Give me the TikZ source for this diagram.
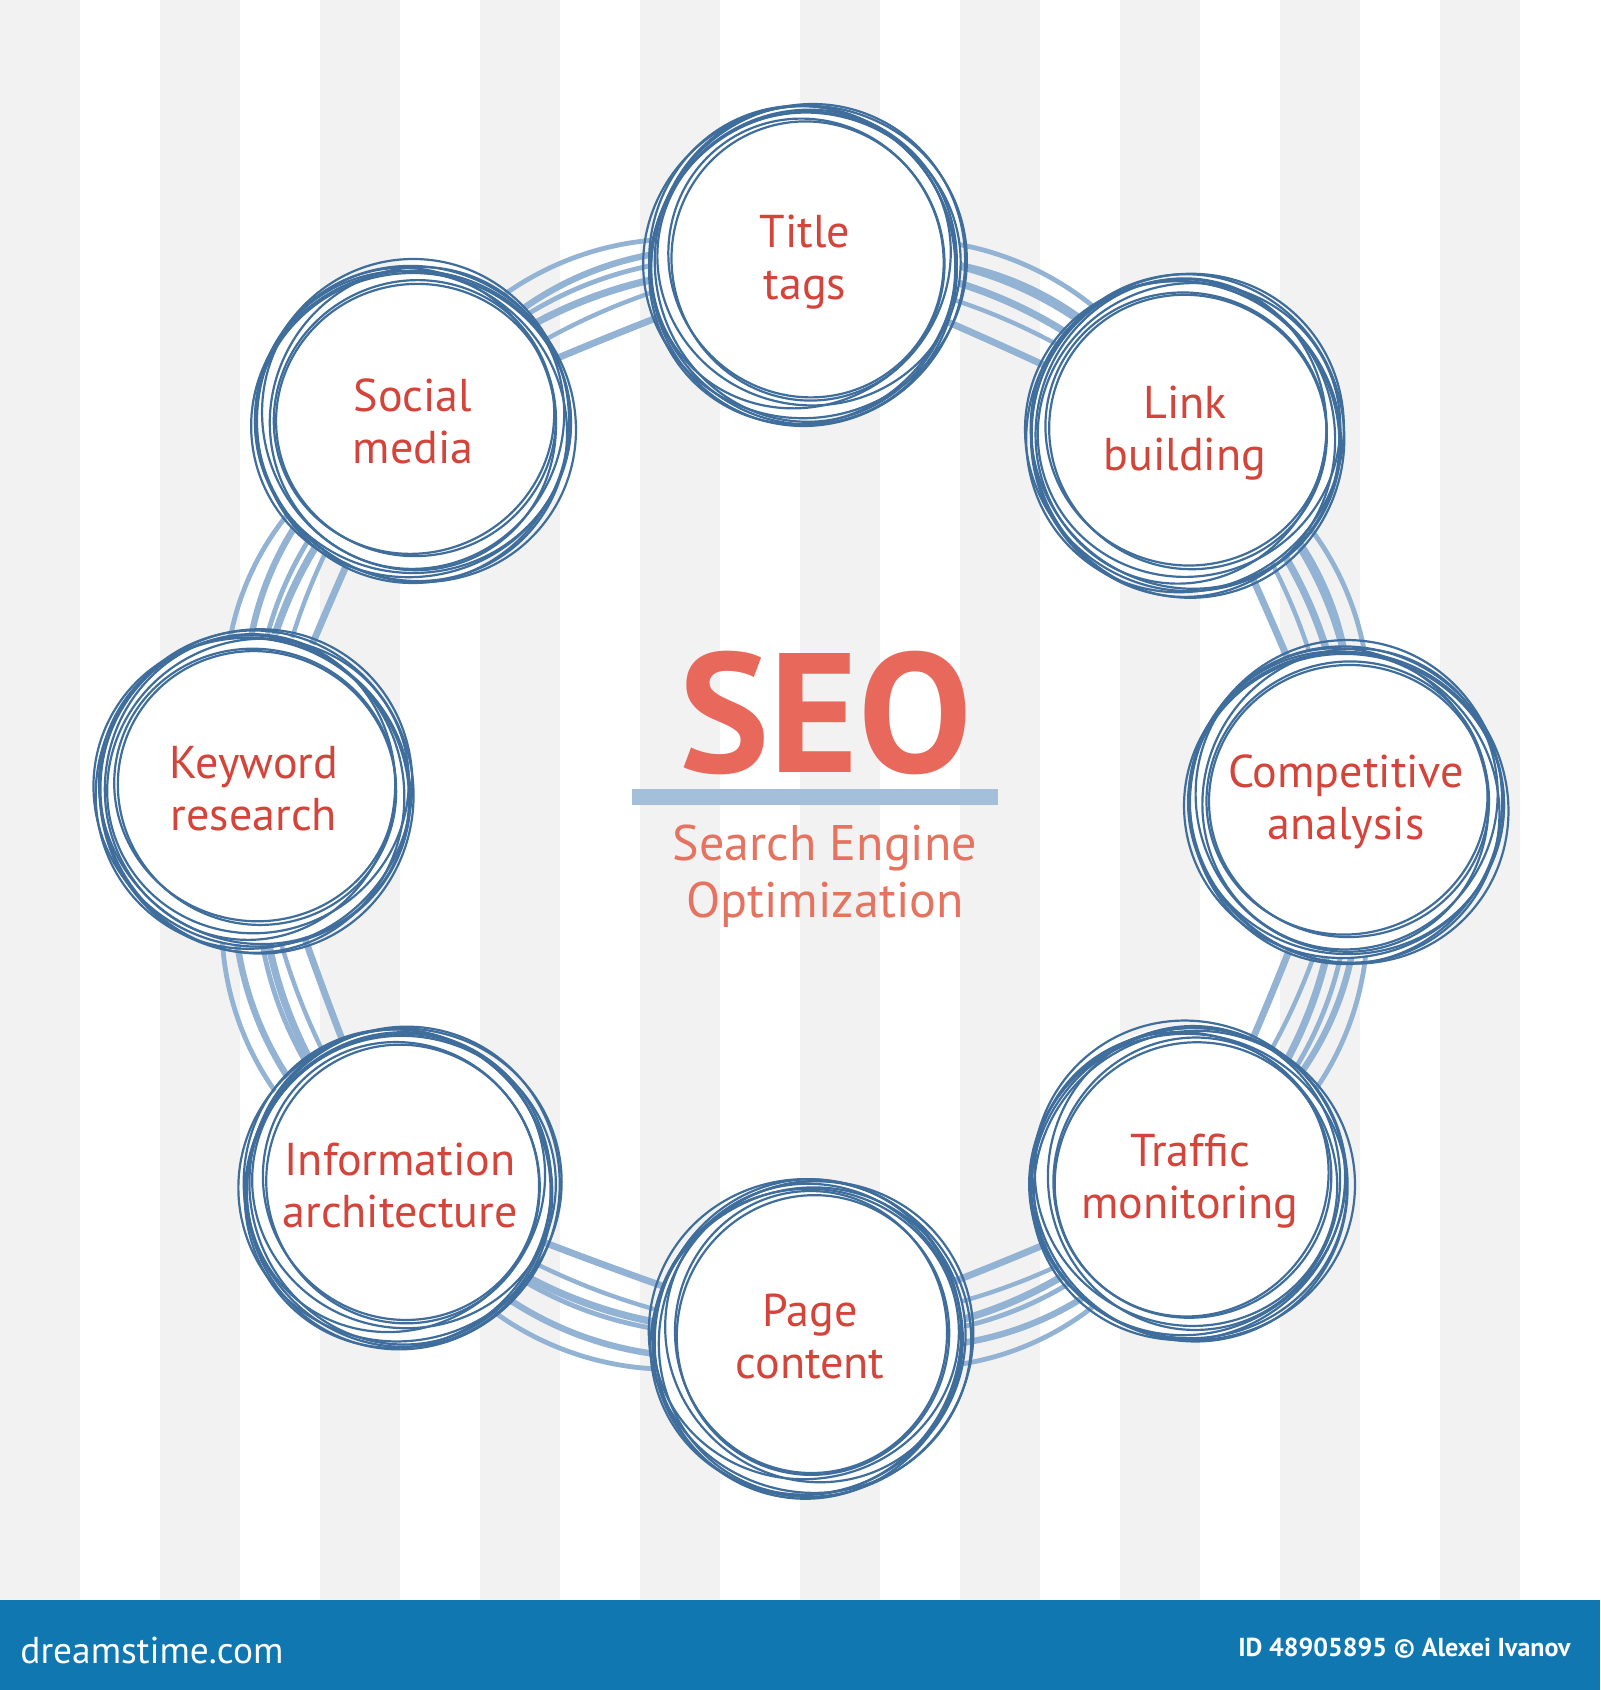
\documentclass[tikz,border=0pt]{standalone}
\usepackage{fontspec}
\setmainfont{PT Sans}
\usetikzlibrary{calc}
\definecolor{ringblue}{HTML}{3F6E9C}
\definecolor{linkblue}{HTML}{93B3D4}
\definecolor{labelred}{HTML}{D4443A}
\definecolor{seored}{HTML}{E8695C}
\definecolor{subred}{HTML}{E5735F}
\definecolor{barblue}{HTML}{A3BFDA}
\definecolor{footblue}{HTML}{1077B0}
\definecolor{stripegray}{HTML}{F2F2F2}
\pgfdeclarelayer{back}
\pgfdeclarelayer{links}
\pgfsetlayers{back,links,main}
\tikzset{
  topic/.style={circle, fill=white, minimum size=156pt, inner sep=0pt,
    align=center, text=labelred, font=\fontsize{23}{26}\selectfont},
  sketch/.style={draw=ringblue, line width=1.1pt},
  linkline/.style={draw=linkblue, line cap=round},
}
\newcommand{\sketchring}[2]{%
  \foreach \dx/\dy/\rx/\ry/\rot in {0/0/162/156/10, 3/-3/156/162/-25,
      -4/2/153/145/40, 4/3/146/152/75, -2/-3/160/153/110,
      1/4/141/136/-55, -2/-5/152/159/150, 3/1/136/140/20, 0/-2/158/150/-80}
    \draw[sketch] ($(#1)+(\dx,\dy)$)
      circle[x radius=\rx, y radius=\ry, rotate=\rot+#2];}

\begin{document}
\begin{tikzpicture}[x=0.5pt, y=0.5pt]
  \useasboundingbox (0,0) rectangle (1600,-1690);
  \begin{pgfonlayer}{back}
    \fill[white] (0,0) rectangle (1600,-1600);
    \foreach \i in {0,...,9}
      \fill[stripegray] (\i*160,0) rectangle (\i*160+80,-1600);
  \end{pgfonlayer}

  \node[topic] (title) at (805,-262) {Title\\tags};
  \node[topic] (link) at (1185,-433) {Link\\building};
  \node[topic] (comp) at (1346,-802) {Competitive\\analysis};
  \node[topic] (traffic) at (1190,-1181) {Traffic\\monitoring};
  \node[topic] (page) at (810,-1336) {Page\\content};
  \node[topic] (info) at (400,-1185) {Information\\architecture};
  \node[topic] (keyword) at (254,-789) {Keyword\\research};
  \node[topic] (social) at (413,-421) {Social\\media};

  \sketchring{title}{0}
  \sketchring{link}{37}
  \sketchring{comp}{74}
  \sketchring{traffic}{111}
  \sketchring{page}{148}
  \sketchring{info}{185}
  \sketchring{keyword}{222}
  \sketchring{social}{259}

  \begin{pgfonlayer}{links}
    \foreach \a/\b in {title/link, link/comp, comp/traffic, traffic/page,
        page/info, info/keyword, keyword/social, social/title}
      \foreach \bend/\sx/\sy/\w in {2/0/0/3.4, 14/6/-4/2.2, 22/-5/5/3.6,
          28/0/8/2.4, 36/4/-6/3.2, 48/-8/0/2.4}
        \draw[linkline, line width=\w pt] ([shift={(\sx,\sy)}]\a.center)
          to[bend left=\bend] ([shift={(\sy,\sx)}]\b.center);
  \end{pgfonlayer}

  \node[anchor=base, inner sep=0pt, text=seored,
    font=\fontsize{85}{85}\selectfont\bfseries] (seo) at (826,-772) {SEO};
  \fill[barblue] (632,-789) rectangle (998,-805);
  \node[anchor=base, inner sep=0pt, text=subred,
    font=\fontsize{25}{26}\selectfont] (search) at (825,-860) {Search Engine};
  \node[anchor=base, inner sep=0pt, text=subred,
    font=\fontsize{25}{26}\selectfont] (optim) at (825,-917) {Optimization};

  \fill[footblue] (0,-1600) rectangle (1600,-1690);
  \node[anchor=base west, inner sep=0pt, text=white,
    font=\fontsize{18.7}{19}\selectfont] (site) at (20,-1663) {dreamstime.com};
  \node[anchor=base east, inner sep=0pt, text=white,
    font=\fontsize{13}{13}\selectfont\bfseries] (credit) at (1571,-1656)
    {ID 48905895 © Alexei Ivanov};
\end{tikzpicture}
\end{document}
